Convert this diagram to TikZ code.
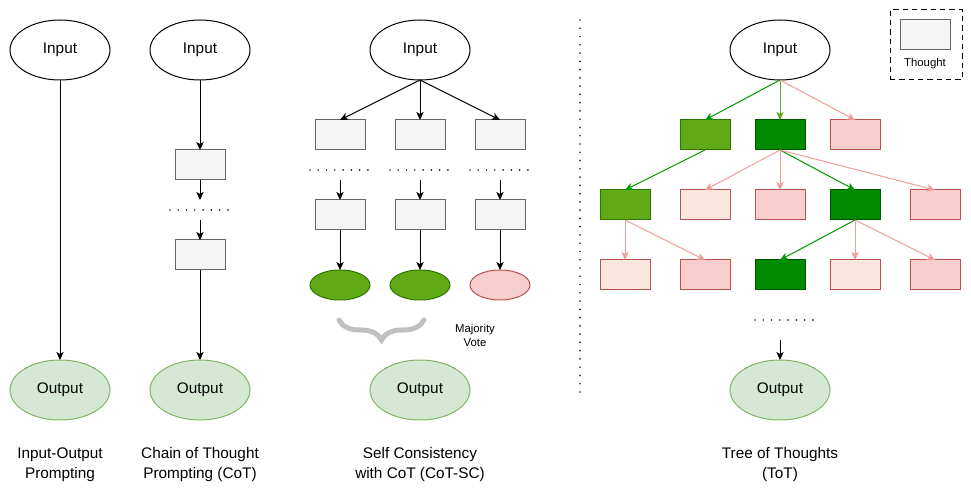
\documentclass[tikz,border=0pt]{standalone}
\usepackage{fontspec}
\setmainfont{Liberation Sans}
\usetikzlibrary{arrows.meta,decorations.pathreplacing,shapes.geometric}
\definecolor{thgray}{HTML}{F5F5F5}
\definecolor{thline}{HTML}{666666}
\definecolor{outfill}{HTML}{D5E8D4}
\definecolor{outline}{HTML}{82B366}
\definecolor{lgfill}{HTML}{60A917}
\definecolor{lgline}{HTML}{2D7600}
\definecolor{dgfill}{HTML}{008A00}
\definecolor{dgline}{HTML}{005700}
\definecolor{pkfill}{HTML}{F8CECC}
\definecolor{pkline}{HTML}{B85450}
\definecolor{lpfill}{HTML}{FAE6DF}
\definecolor{egreen}{HTML}{009900}
\definecolor{eolive}{HTML}{60A917}
\definecolor{epink}{HTML}{F19C99}
\definecolor{bracegray}{HTML}{C0C0C0}

\begin{document}
\begin{tikzpicture}[x=0.75pt,y=-0.75pt,
    font=\fontsize{11.5}{15}\selectfont,line width=0.75pt,
    inp/.style={ellipse,draw,fill=white,minimum width=75pt,minimum height=45pt,
      inner sep=0pt,outer sep=0pt},
    outp/.style={inp,draw=outline,fill=outfill},
    th/.style={draw=thline,fill=thgray,minimum width=37.5pt,minimum height=22.5pt,
      inner sep=0pt,outer sep=0pt},
    lg/.style={th,draw=lgline,fill=lgfill},
    dg/.style={th,draw=dgline,fill=dgfill},
    pk/.style={th,draw=pkline,fill=pkfill},
    lp/.style={th,draw=pkline,fill=lpfill},
    ans/.style={ellipse,minimum width=45pt,minimum height=22.5pt,inner sep=0pt,outer sep=0pt},
    ttl/.style={align=center},
    a/.style={-{Stealth[length=6pt,width=5.5pt,inset=1.5pt]}},
    ag/.style={a,egreen},
    ao/.style={a,eolive},
    ap/.style={a,epink},
    dots/.style={dash pattern=on 0pt off 6.2pt,line cap=round,line width=1.4pt,
      draw=black!85}]
  \useasboundingbox (0,0) rectangle (971,495);

  % input-output
  \node[inp] (ioin) at (60,50) {Input};
  \node[outp] (ioout) at (60,390) {Output};
  \draw[a] (ioin) -- (ioout);
  \node[ttl] (iottl) at (60,465) {Input-Output\\Prompting};

  % chain of thought
  \node[inp] (cotin) at (200,50) {Input};
  \node[th] (cot1) at (200,165) {};
  \node[th] (cot2) at (200,255) {};
  \node[outp] (cotout) at (200,390) {Output};
  \coordinate (cotd1) at (200,200);
  \coordinate (cotd2) at (200,220);
  \draw[dots] (170,210) -- (230,210);
  \draw[a] (cotin) -- (cot1);
  \draw[a] (cot1) -- (cotd1);
  \draw[a] (cotd2) -- (cot2);
  \draw[a] (cot2) -- (cotout);
  \node[ttl] (cotttl) at (200,465) {Chain of Thought\\Prompting (CoT)};

  % self consistency
  \node[inp] (scin) at (420,50) {Input};
  \foreach \n/\x in {a/340,b/420,c/500}{
    \node[th] (sc1\n) at (\x,135) {};
    \node[th] (sc2\n) at (\x,215) {};
    \coordinate (scd\n) at (\x,180);
    \draw[dots] (\x-30,170) -- (\x+30,170);
    \draw[a] (scin.south) -- (sc1\n.north);
    \draw[a] (scd\n) -- (sc2\n);
  }
  \node[ans,draw=lgline,fill=lgfill] (scea) at (340,285) {};
  \node[ans,draw=lgline,fill=lgfill] (sceb) at (420,285) {};
  \node[ans,draw=pkline,fill=pkfill] (scec) at (500,285) {};
  \foreach \n in {a,b,c}
    \draw[a] (sc2\n) -- (sce\n);
  \draw[bracegray,line width=3.75pt,line cap=round,decorate,
    decoration={brace,amplitude=15pt,aspect=0.5}] (424,320) -- (339,320);
  \node[align=center,font=\fontsize{8.5}{10.5}\selectfont] (vote) at (475,335) {Majority\\Vote};
  \node[outp] (scout) at (420,390) {Output};
  \node[ttl] (scttl) at (420,465) {Self Consistency\\with CoT (CoT-SC)};

  \draw[dots] (580,20) -- (580,400);

  % tree of thoughts
  \node[inp] (totin) at (780,50) {Input};
  \node[lg] (t1a) at (705,135) {};
  \node[dg] (t1b) at (780,135) {};
  \node[pk] (t1c) at (855,135) {};
  \node[lg] (t2a) at (625,205) {};
  \node[lp] (t2b) at (705,205) {};
  \node[pk] (t2c) at (780,205) {};
  \node[dg] (t2d) at (855,205) {};
  \node[pk] (t2e) at (935,205) {};
  \node[lp] (t3a) at (625,275) {};
  \node[pk] (t3b) at (705,275) {};
  \node[dg] (t3c) at (780,275) {};
  \node[lp] (t3d) at (855,275) {};
  \node[pk] (t3e) at (935,275) {};
  \draw[ag] (totin.south) -- (t1a.north);
  \draw[ao] (totin.south) -- (t1b.north);
  \draw[ap] (totin.south) -- (t1c.north);
  \draw[ag] (t1a.south) -- (t2a.north);
  \draw[ap] (t1b.south) -- (t2b.north);
  \draw[ap] (t1b.south) -- (t2c.north);
  \draw[ag] (t1b.south) -- (t2d.north);
  \draw[ap] (t1b.south) -- (t2e.north);
  \draw[ap] (t2a.south) -- (t3a.north);
  \draw[ap] (t2a.south) -- (t3b.north);
  \draw[ag] (t2d.south) -- (t3c.north);
  \draw[ap] (t2d.south) -- (t3d.north);
  \draw[ap] (t2d.south) -- (t3e.north);
  \draw[dots] (755,320) -- (815,320);
  \node[outp] (totout) at (780,390) {Output};
  \coordinate (totd) at (780,340);
  \draw[a] (totd) -- (totout);
  \node[ttl] (totttl) at (780,465) {Tree of Thoughts\\(ToT)};

  % legend
  \node[draw,dash pattern=on 4pt off 3pt,minimum width=54pt,minimum height=52.5pt,
    inner sep=0pt] (legend) at (926,45) {};
  \node[th] (legth) at (925,35) {};
  \node[font=\fontsize{8.5}{10.5}\selectfont] (legtxt) at (925,64) {Thought};
\end{tikzpicture}
\end{document}
